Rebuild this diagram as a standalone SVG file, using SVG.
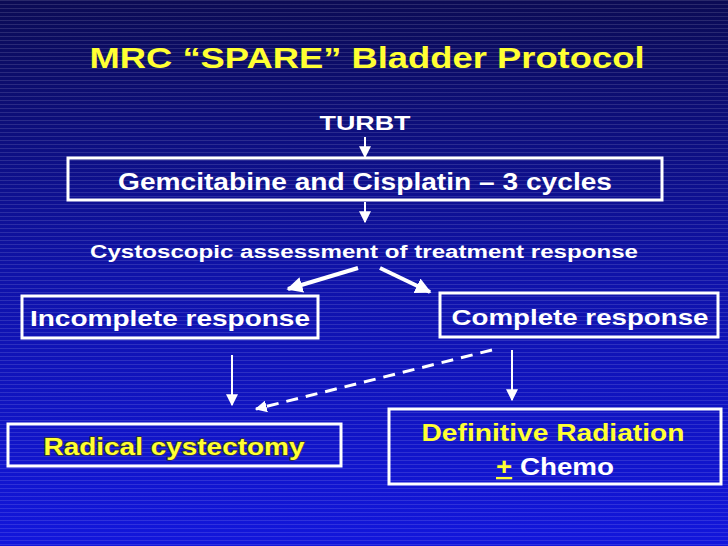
<svg xmlns="http://www.w3.org/2000/svg" width="728" height="546" viewBox="0 0 728 546">
<defs>
<linearGradient id="bg" x1="0" y1="0" x2="0" y2="1">
<stop offset="0" stop-color="#0b0b55"/>
<stop offset="0.5" stop-color="#0f12a8"/>
<stop offset="1" stop-color="#1216dc"/>
</linearGradient>
<pattern id="stripes" width="8" height="4" patternUnits="userSpaceOnUse">
<rect y="0" width="8" height="1" fill="#ffffff" opacity="0.12"/>
</pattern>
<marker id="ah" viewBox="0 0 10 10" refX="9" refY="5" markerWidth="4" markerHeight="4" orient="auto" markerUnits="strokeWidth">
<path d="M0,0 L10,5 L0,10 z" fill="#fff"/>
</marker>
<marker id="ahs" viewBox="0 0 10 10" refX="9" refY="5" markerWidth="6" markerHeight="6" orient="auto" markerUnits="strokeWidth">
<path d="M0,0 L10,5 L0,10 z" fill="#fff"/>
</marker>
</defs>
<style>
text{font-family:"Liberation Sans",Arial,sans-serif;font-weight:bold;text-anchor:middle}
.box{fill:none;stroke:#fff;stroke-width:3}
.w{fill:#fff}
.y{fill:#ffff33}
.ln{stroke:#fff;fill:none}
</style>
<rect width="728" height="546" fill="url(#bg)"/>
<rect width="728" height="546" fill="url(#stripes)"/>
<text x="367" y="68" font-size="30" class="y" textLength="555" lengthAdjust="spacingAndGlyphs">MRC “SPARE” Bladder Protocol</text>
<g id="turbt"><text x="365" y="130" font-size="21" class="w" textLength="91" lengthAdjust="spacingAndGlyphs">TURBT</text></g>
<g id="gem"><rect class="box" x="68" y="158" width="594" height="42"/><text x="365" y="190" font-size="23" class="w" textLength="494" lengthAdjust="spacingAndGlyphs">Gemcitabine and Cisplatin – 3 cycles</text></g>
<g id="cysto"><text x="364" y="258" font-size="18" class="w" textLength="548" lengthAdjust="spacingAndGlyphs">Cystoscopic assessment of treatment response</text></g>
<g id="incomplete"><rect class="box" x="22" y="296" width="296" height="42"/><text x="170" y="326" font-size="22" class="w" textLength="280" lengthAdjust="spacingAndGlyphs">Incomplete response</text></g>
<g id="complete"><rect class="box" x="440" y="293" width="278" height="44"/><text x="580" y="325" font-size="22" class="w" textLength="257" lengthAdjust="spacingAndGlyphs">Complete response</text></g>
<g id="radical"><rect class="box" x="8" y="424" width="333" height="42"/><text x="174" y="455" font-size="23" class="y" stroke="#333" stroke-width="1.5" paint-order="stroke" textLength="261" lengthAdjust="spacingAndGlyphs">Radical cystectomy</text></g>
<g id="definitive"><rect class="box" x="389" y="409" width="332" height="75"/><text x="553" y="441" font-size="23" class="y" textLength="263" lengthAdjust="spacingAndGlyphs">Definitive Radiation</text><text x="555" y="475" font-size="23" class="w" textLength="118" lengthAdjust="spacingAndGlyphs"><tspan class="y" text-decoration="underline">+</tspan> Chemo</text></g>
<g id="connectors">
<line class="ln" x1="365" y1="137" x2="365" y2="157" stroke-width="2" marker-end="url(#ahs)"/>
<line class="ln" x1="365" y1="202" x2="365" y2="222" stroke-width="2" marker-end="url(#ahs)"/>
<line class="ln" x1="358" y1="268" x2="288" y2="289" stroke-width="4" marker-end="url(#ah)"/>
<line class="ln" x1="380" y1="268" x2="430" y2="292" stroke-width="4" marker-end="url(#ah)"/>
<line class="ln" x1="232" y1="355" x2="232" y2="405" stroke-width="2" marker-end="url(#ahs)"/>
<line class="ln" x1="512" y1="350" x2="512" y2="400" stroke-width="2" marker-end="url(#ahs)"/>
<line class="ln" x1="492" y1="350" x2="256" y2="409" stroke-width="3" stroke-dasharray="12,8" marker-end="url(#ah)"/>
</g>
</svg>
